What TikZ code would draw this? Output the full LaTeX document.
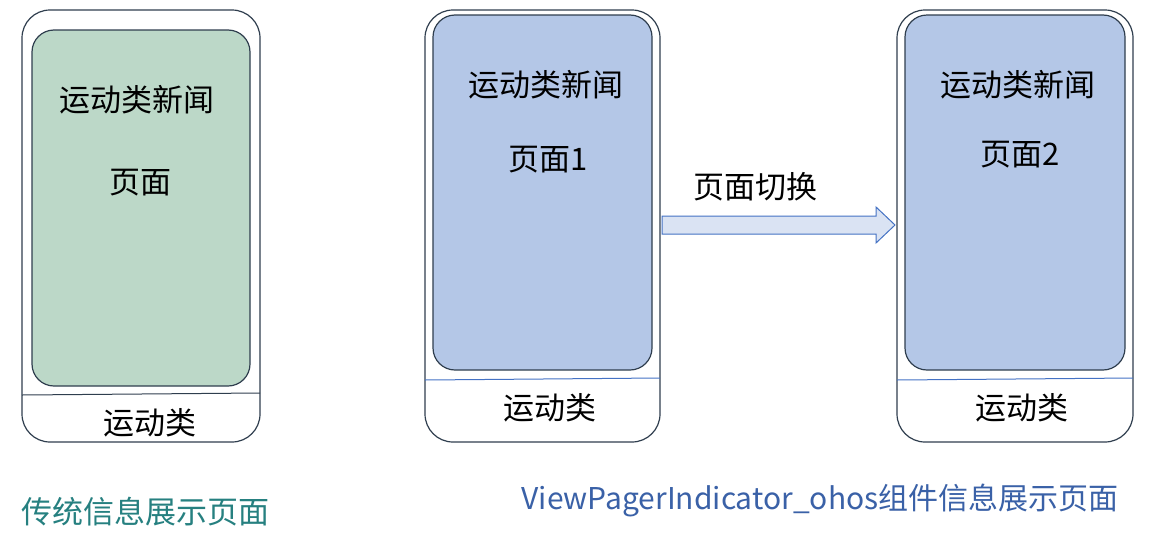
\documentclass[tikz,border=0pt]{standalone}
\usepackage{fontspec}
\setmainfont{Noto Sans CJK SC}
\definecolor{frame}{HTML}{2F3E4E}
\definecolor{greenf}{HTML}{BCD8C8}
\definecolor{bluef}{HTML}{B4C7E7}
\definecolor{blueline}{HTML}{4472C4}
\definecolor{arrowf}{HTML}{DAE3F3}
\tikzset{
 outer/.style={draw=frame,line width=1.2pt,rounded corners=28pt},
 inner/.style={draw=frame,line width=1.2pt,rounded corners=22pt},
 txt/.style={font=\fontsize{31}{34}\selectfont,inner sep=0pt},
 captxt/.style={font=\fontsize{31}{34}\selectfont,inner sep=0pt}
}
\begin{document}
\begin{tikzpicture}[x=1pt,y=-1pt]
\useasboundingbox (0,0) rectangle (1150,533);
% phone 1
\draw[outer] (22,10) rectangle (260,442);
\draw[inner,fill=greenf] (32,30) rectangle (250,386);
\draw[frame,line width=1pt] (22,395) -- (260,393);
\node[txt] (a1) at (137,100) {运动类新闻};
\node[txt] (a2) at (140,183) {页面};
\node[txt] (a3) at (150,423) {运动类};
% phone 2
\draw[outer] (425,10) rectangle (660,442);
\draw[inner,fill=bluef] (433,15) rectangle (652,370);
\draw[blueline,line width=1pt] (425,380) -- (660,378);
\node[txt] (b1) at (546,85) {运动类新闻};
\node[txt] (b2) at (548,160) {页面1};
\node[txt] (b3) at (550,408) {运动类};
% phone 3
\draw[outer] (897,10) rectangle (1133,442);
\draw[inner,fill=bluef] (905,15) rectangle (1125,370);
\draw[blueline,line width=1pt] (897,380) -- (1133,378);
\node[txt] (c1) at (1018,85) {运动类新闻};
\node[txt] (c2) at (1020,155) {页面2};
\node[txt] (c3) at (1022,408) {运动类};
% arrow
\draw[blueline,fill=arrowf,line width=1pt] (662,216) -- (876,216) -- (876,207) -- (895,225) -- (876,243) -- (876,234) -- (662,234) -- cycle;
\node[txt] (lab) at (755,187) {页面切换};
% captions
\node[captxt,text=teal!70!gray] (t1) at (145,512) {传统信息展示页面};
\node[captxt,text=blueline!85!black,font=\fontsize{30}{33}\selectfont] (t2) at (820,500) {ViewPagerIndicator\_ohos组件信息展示页面};
\end{tikzpicture}
\end{document}
